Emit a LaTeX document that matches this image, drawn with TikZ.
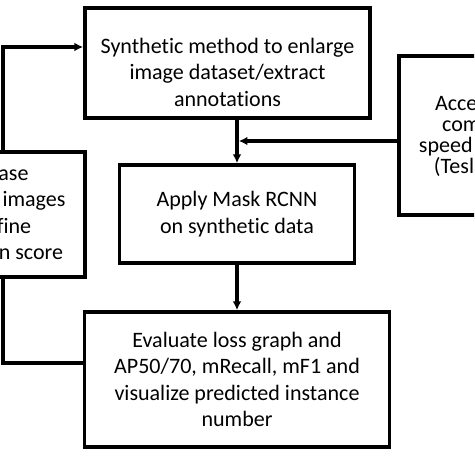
\documentclass[tikz,border=0pt]{standalone}
\usepackage{fontspec}
\setmainfont{Carlito}[Ligatures=CommonOff]
\usetikzlibrary{arrows.meta}
\tikzset{
  stepbox/.style={draw, line width=3.2pt, fill=white, align=center, inner sep=0pt,
                  font=\fontsize{18.8}{22.6}\selectfont},
  tightbox/.style={stepbox, font=\fontsize{18.8}{17.9}\selectfont},
  flow/.style={-{Latex[length=2.6mm,width=2.6mm]}, line width=3pt},
}

\begin{document}
\begin{tikzpicture}[x=0.3mm, y=-0.3mm]
\useasboundingbox (0,0) rectangle (474,474);
\clip (0,0) rectangle (474,474);

\node[stepbox, minimum width=85.5mm, minimum height=33mm] (synth) at (227.5,63)
  {\rule{0pt}{29pt}Synthetic method to enlarge\\image dataset/extract\\annotations};
\node[stepbox, minimum width=70.5mm, minimum height=29.4mm] (rcnn) at (237,214)
  {Apply Mask RCNN\\on synthetic data};
\node[stepbox, minimum width=91.5mm, minimum height=40.5mm] (eval) at (237,379.5)
  {Evaluate loss graph and\\AP50/70, mRecall, mF1 and\\visualize predicted instance\\number};
\node[tightbox, minimum width=49.8mm, minimum height=47.7mm] (accel) at (482,135.5)
  {Accelerate\\compute\\speed on GPU\\(Tesla K80)};

% loop back to the top, under the left box
\coordinate (loopbot) at (3,363);
\coordinate (looptop) at (3,47);
\coordinate (gpuin) at (399,141);
\draw[flow] (loopbot -| eval.west) -- (loopbot) -- (looptop) -- (looptop -| synth.west);
\draw[flow] (synth.south -| rcnn.north) -- (rcnn.north);
\draw[flow] (rcnn.south) -- (eval.north);
\draw[flow, shorten >=1.5pt] (gpuin) -- (gpuin -| rcnn.north);

\node[stepbox, minimum width=56.4mm, minimum height=37.5mm] (incr) at (-9,214.5)
  {Increase\\synthetic images\\to define\\prediction score};
\end{tikzpicture}
\end{document}
